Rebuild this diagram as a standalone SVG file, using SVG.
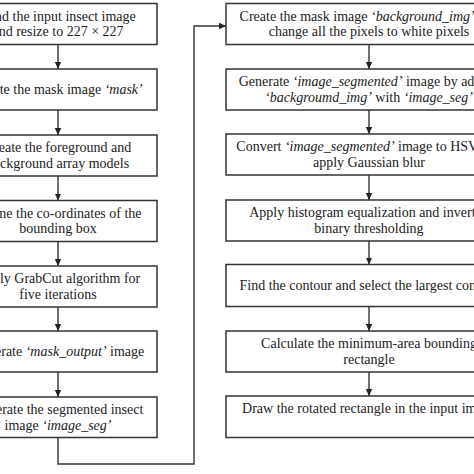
<svg xmlns="http://www.w3.org/2000/svg" width="474" height="474" viewBox="0 0 474 474">
<defs>
<style>
.box{fill:#fff;stroke:#333;stroke-width:1.5}
.t{font-family:"Liberation Serif","Times New Roman",serif;font-size:14px;fill:#222;text-anchor:middle}
.i{font-style:italic}
.c{fill:none;stroke:#333;stroke-width:1.4}
</style>
<marker id="ah" markerUnits="userSpaceOnUse" markerWidth="8" markerHeight="8" refX="7" refY="4" orient="auto">
<path d="M0,0.8 L7,4 L0,7.2 Z" fill="#222"/>
</marker>
</defs>
<rect width="474" height="474" fill="#fff"/>
<g id="connectors">
<line class="c" x1="58" y1="44" x2="58" y2="69" marker-end="url(#ah)"/>
<line class="c" x1="58" y1="110" x2="58" y2="135" marker-end="url(#ah)"/>
<line class="c" x1="58" y1="176" x2="58" y2="200.5" marker-end="url(#ah)"/>
<line class="c" x1="58" y1="241.5" x2="58" y2="266" marker-end="url(#ah)"/>
<line class="c" x1="58" y1="307" x2="58" y2="331" marker-end="url(#ah)"/>
<line class="c" x1="58" y1="372" x2="58" y2="397" marker-end="url(#ah)"/>
<polyline class="c" points="58,437.5 58,464 194,464 194,26 226,26" marker-end="url(#ah)"/>
<line class="c" x1="369" y1="44" x2="369" y2="69" marker-end="url(#ah)"/>
<line class="c" x1="369" y1="110" x2="369" y2="134" marker-end="url(#ah)"/>
<line class="c" x1="369" y1="175" x2="369" y2="200" marker-end="url(#ah)"/>
<line class="c" x1="369" y1="241" x2="369" y2="264.5" marker-end="url(#ah)"/>
<line class="c" x1="369" y1="306.5" x2="369" y2="331" marker-end="url(#ah)"/>
<line class="c" x1="369" y1="372" x2="369" y2="396" marker-end="url(#ah)"/>
</g>
<g id="n1"><rect class="box" x="-42" y="3.5" width="199" height="41"/>
<text class="t" x="58" y="20.5">Read the input insect image</text>
<text class="t" x="58" y="36">and resize to 227 × 227</text></g>
<g id="n2"><rect class="box" x="-42" y="69" width="199" height="41"/>
<text class="t" x="58" y="93.5">Create the mask image <tspan class="i">‘mask’</tspan></text></g>
<g id="n3"><rect class="box" x="-42" y="135" width="199" height="41"/>
<text class="t" x="58" y="152">Create the foreground and</text>
<text class="t" x="58" y="167.5">background array models</text></g>
<g id="n4"><rect class="box" x="-42" y="200.5" width="199" height="41"/>
<text class="t" x="58" y="217.5">Define the co-ordinates of the</text>
<text class="t" x="58" y="233">bounding box</text></g>
<g id="n5"><rect class="box" x="-42" y="266" width="199" height="41"/>
<text class="t" x="58" y="283">Apply GrabCut algorithm for</text>
<text class="t" x="58" y="298.5">five iterations</text></g>
<g id="n6"><rect class="box" x="-42" y="331" width="199" height="41"/>
<text class="t" x="58" y="356">Generate <tspan class="i">‘mask_output’</tspan> image</text></g>
<g id="n7"><rect class="box" x="-42" y="397" width="199" height="40.5"/>
<text class="t" x="58" y="414">Generate the segmented insect</text>
<text class="t" x="58" y="429.5">image <tspan class="i">‘image_seg’</tspan></text></g>
<g id="n8"><rect class="box" x="226" y="3.5" width="290" height="41"/>
<text class="t" x="369" y="20.5">Create the mask image <tspan class="i">‘background_img’</tspan> and</text>
<text class="t" x="369" y="36">change all the pixels to white pixels</text></g>
<g id="n9"><rect class="box" x="226" y="69" width="290" height="41"/>
<text class="t" x="369" y="86">Generate <tspan class="i">‘image_segmented’</tspan> image by adding</text>
<text class="t" x="369" y="101.5"><tspan class="i">‘backgroumd_img’</tspan> with <tspan class="i">‘image_seg’</tspan></text></g>
<g id="n10"><rect class="box" x="226" y="134" width="290" height="41"/>
<text class="t" x="369" y="151">Convert <tspan class="i">‘image_segmented’</tspan> image to HSV and</text>
<text class="t" x="369" y="166.5">apply Gaussian blur</text></g>
<g id="n11"><rect class="box" x="226" y="200" width="290" height="41"/>
<text class="t" x="369" y="217">Apply histogram equalization and inverted</text>
<text class="t" x="369" y="232.5">binary thresholding</text></g>
<g id="n12"><rect class="box" x="226" y="264.5" width="290" height="42"/>
<text class="t" x="369" y="290">Find the contour and select the largest contour</text></g>
<g id="n13"><rect class="box" x="226" y="331" width="290" height="41"/>
<text class="t" x="369" y="348">Calculate the minimum-area bounding</text>
<text class="t" x="369" y="363.5">rectangle</text></g>
<g id="n14"><rect class="box" x="226" y="396" width="290" height="41.5"/>
<text class="t" x="369" y="413">Draw the rotated rectangle in the input image</text></g>
</svg>
